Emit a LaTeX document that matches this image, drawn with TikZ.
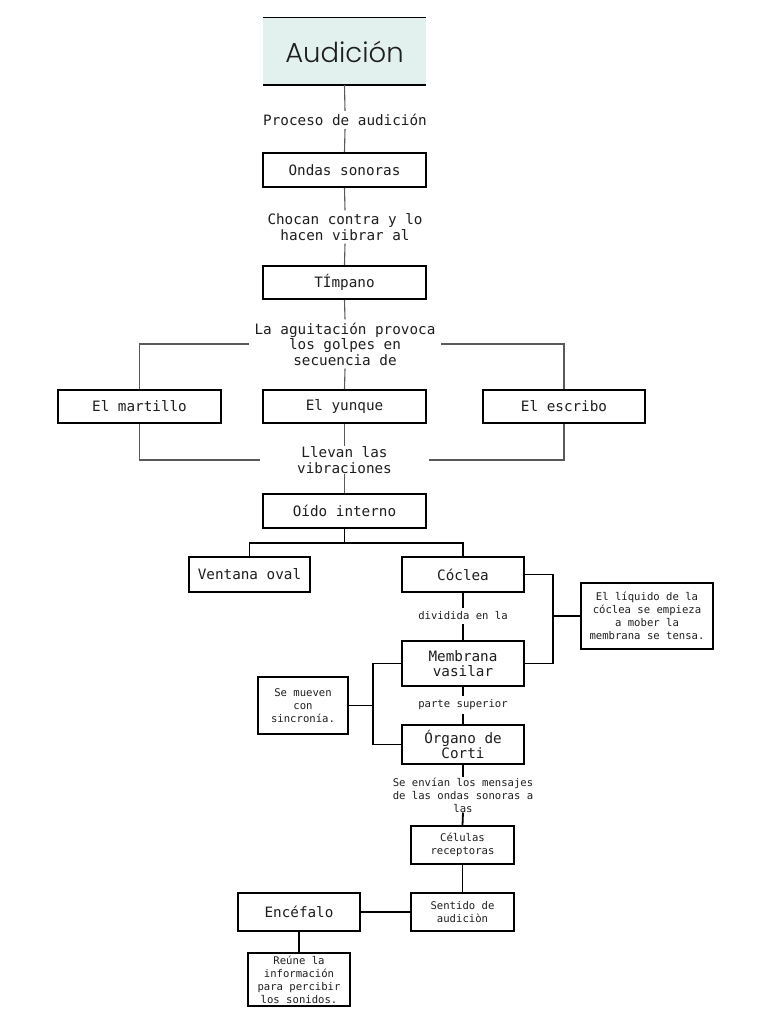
\documentclass[tikz,border=0pt]{standalone}
\usepackage{fontspec}
\newfontfamily\monof{DejaVu Sans Mono}
\newfontfamily\titlef{Poppins Light}
\newcommand\monoL{\monof\fontsize{14.3}{15.5}\selectfont}
\newcommand\monoS{\monof\fontsize{10.6}{13}\selectfont}
\definecolor{titlecol}{HTML}{E3F1EE}
\definecolor{txt}{HTML}{1E1E1E}
\begin{document}
\begin{tikzpicture}[x=1pt,y=-1pt,
  bx/.style={draw=black, line width=1.8pt, inner sep=0, align=center, text=txt},
  bigbox/.style={bx, font=\monoL},
  smallbox/.style={bx, font=\monoS},
  lab/.style={inner xsep=0, inner ysep=3pt, align=center, font=\monoL, text=txt},
  slab/.style={inner xsep=0, inner ysep=4pt, align=center, font=\monoS, text=txt},
  thinc/.style={draw=black!65, line width=1.1pt},
  thickc/.style={draw=black, line width=1.8pt}]
\useasboundingbox[fill=white] (0,0) rectangle (768,1024);

% title
\node[fill=titlecol, minimum width=163pt, minimum height=67pt, inner sep=0] (title) at (344.5,51.5) {\titlef\fontsize{27.5}{30}\selectfont\color{txt}Audición};
\draw[line width=1.4pt] (title.north west) -- (title.north east);
\draw[line width=1.4pt] (title.south west) -- (title.south east);

\node[lab] (proc) at (345,120) {Proceso de audición};
\node[bigbox, minimum width=163pt, minimum height=34pt] (ondas) at (344.5,170) {Ondas sonoras};
\node[lab] (chocan) at (345,227) {Chocan contra y lo\\hacen vibrar al};
\node[bigbox, minimum width=163pt, minimum height=33pt] (timp) at (344.5,282.5) {TÍmpano};
\node[lab, minimum width=192pt] (agit) at (345,344) {La aguitación provoca\\los golpes en\\secuencia de};
\node[bigbox, minimum width=163pt, minimum height=33pt] (mart) at (139.5,406.5) {El martillo};
\node[bigbox, minimum width=163pt, minimum height=33pt] (yun) at (344.5,406.5) {El yunque};
\node[bigbox, minimum width=162pt, minimum height=33pt] (esc) at (564,406.5) {El escribo};
\node[lab, minimum width=168pt, inner ysep=0] (llev) at (344.5,460) {Llevan las\\vibraciones};
\node[bigbox, minimum width=163pt, minimum height=34pt] (oido) at (344.5,511) {Oído interno};

\node[bigbox, minimum width=121pt, minimum height=35pt] (vent) at (249.5,574.5) {Ventana oval};
\node[bigbox, minimum width=122pt, minimum height=35pt] (coc) at (463,574.5) {Cóclea};
\node[smallbox, minimum width=132pt, minimum height=66pt] (liq) at (647,616) {El líquido de la\\cóclea se empieza\\a mober la\\membrana se tensa.};
\node[slab] (div) at (463,616) {dividida en la};
\node[bigbox, minimum width=122pt, minimum height=45pt] (memb) at (463,663.5) {Membrana\\vasilar};
\node[smallbox, minimum width=90pt, minimum height=57pt] (sem) at (303,705.5) {Se mueven\\con\\sincronía.};
\node[slab] (parte) at (463,705) {parte superior};
\node[bigbox, minimum width=122pt, minimum height=39pt] (org) at (463,744.5) {Órgano de\\Corti};
\node[slab, inner ysep=0] (env) at (463,795) {Se envían los mensajes\\de las ondas sonoras a\\las};
\node[smallbox, minimum width=103pt, minimum height=38pt] (cel) at (462.5,845) {Células\\receptoras};
\node[smallbox, minimum width=103pt, minimum height=38pt] (sent) at (462.5,912) {Sentido de\\audiciòn};
\node[bigbox, minimum width=122pt, minimum height=38pt] (enc) at (299,912) {Encéfalo};
\node[smallbox, minimum width=102pt, minimum height=53pt] (reune) at (299,979.5) {Reúne la\\información\\para percibir\\los sonidos.};

% upper connectors
\draw[thinc] (title.south) -- (proc.north);
\draw[thinc] (proc.south) -- (ondas.north);
\draw[thinc] (ondas.south) -- (chocan.north);
\draw[thinc] (chocan.south) -- (timp.north);
\draw[thinc] (timp.south) -- (agit.north);
\draw[thinc] (agit.south) -- (yun.north);
\draw[thinc] (agit.west) -| (mart.north);
\draw[thinc] (agit.east) -| (esc.north);
\draw[thinc] (yun.south) -- (llev.north);
\draw[thinc] (mart.south) |- (llev.west);
\draw[thinc] (esc.south) |- (llev.east);
\draw[thinc] (llev.south) -- (oido.north);

% lower connectors
\coordinate (br) at (344.5,543);
\draw[thickc, line width=1.3pt] (oido.south) -- (br);
\draw[thickc, line width=1.3pt] (vent.north) |- (br) -| (coc.north);
\coordinate (rb) at (553,616);
\draw[thickc] (coc.east) -| (rb) |- (memb.east);
\draw[thickc] (rb) -- (liq.west);
\coordinate (lb) at (373,705.5);
\draw[thickc] (memb.west) -| (lb) |- (org.west);
\draw[thickc] (sem.east) -- (lb);
\draw[thickc] (coc.south) -- (div.north);
\draw[thickc] (div.south) -- (memb.north);
\draw[thickc] (memb.south) -- (parte.north);
\draw[thickc] (parte.south) -- (org.north);
\draw[thickc] (org.south) -- (env.north);
\draw[thickc] (env.south) -- (cel.north);
\draw[thickc] (cel.south) -- (sent.north);
\draw[thickc] (enc.east) -- (sent.west);
\draw[thickc] (enc.south) -- (reune.north);
\end{tikzpicture}
\end{document}
